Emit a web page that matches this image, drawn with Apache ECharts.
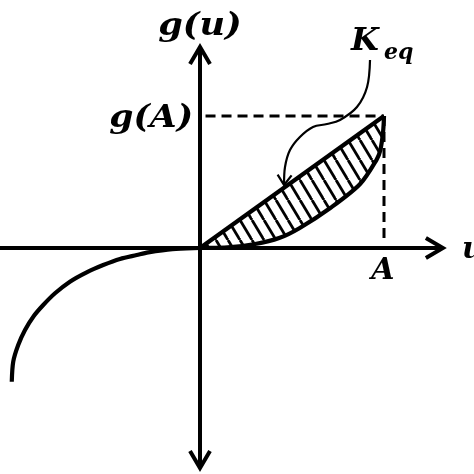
<!DOCTYPE html>
<html>
<head>
<meta charset="utf-8">
<script src="https://cdn.jsdelivr.net/npm/echarts@6/dist/echarts.min.js"></script>
<style>html,body{margin:0;padding:0;background:#fff;}#c{width:474px;height:474px;}</style>
</head>
<body>
<div id="c"></div>
<script>
// ---- data (A = 1, g(A) = 1) ----
const curveU = [-1.023, -1.015, -0.988, -0.951, -0.906, -0.852, -0.788, -0.707, -0.616, -0.526, -0.435, -0.344, -0.281, -0.15, 0, 0.15, 0.3, 0.43, 0.54, 0.71, 0.87, 0.96, 0.98, 0.995, 1.0];
const curveG = [-1.013, -0.861, -0.735, -0.621, -0.520, -0.432, -0.343, -0.255, -0.184, -0.129, -0.083, -0.053, -0.033, -0.008, 0, 0.005, 0.03, 0.075, 0.15, 0.305, 0.485, 0.67, 0.74, 0.88, 1.0];
const chordU = [0, 1];
const chordG = [0, 1];
const pointA = 1;
const gOfA = 1;
const xAxisExtent = [-1.087, 1.32];
const yAxisExtent = [-1.667, 1.523];
const keqU = [0.924, 0.908, 0.853, 0.761, 0.690, 0.614, 0.543, 0.489, 0.462, 0.457];
const keqG = [1.424, 1.22, 1.068, 0.970, 0.939, 0.917, 0.841, 0.742, 0.614, 0.477];
const axisNames = ['u', 'g(u)'];
const tickLabels = ['A', 'g(A)'];
const keqLabel = ['K', 'eq'];

// ---- build ----
const zip = (a, b) => a.map((v, i) => [v, b[i]]);
const curve = zip(curveU, curveG);
const chord = zip(chordU, chordG);
const keq = zip(keqU, keqG);
const rightCurve = curve.filter(p => p[0] >= 0);

const tile = document.createElement('canvas');
tile.width = 12; tile.height = 20;
const tctx = tile.getContext('2d');
tctx.strokeStyle = '#000'; tctx.lineWidth = 2.8;
for (let k = -1; k <= 1; k++) {
  tctx.beginPath(); tctx.moveTo(k * 12, 0); tctx.lineTo(k * 12 + 12, 20); tctx.stroke();
}

function arrowSeries(data, len, half, width) {
  return {
    type: 'custom', silent: true, clip: false, z: 10,
    data: data,
    renderItem: function (params, api) {
      const tip = api.coord([api.value(0), api.value(1)]);
      const from = api.coord([api.value(2), api.value(3)]);
      let dx = tip[0] - from[0], dy = tip[1] - from[1];
      const L = Math.hypot(dx, dy); dx /= L; dy /= L;
      const px = -dy, py = dx;
      const b = [tip[0] - dx * len, tip[1] - dy * len];
      return {
        type: 'polyline',
        shape: { points: [[b[0] + px * half, b[1] + py * half], tip, [b[0] - px * half, b[1] - py * half]] },
        style: { stroke: '#000', lineWidth: width, fill: null, lineJoin: 'miter', lineCap: 'butt' }
      };
    }
  };
}

function curveSeries(points, opts) {
  return {
    type: 'custom', silent: true, clip: false, z: opts.z || 5, data: [[0, 0]],
    renderItem: function (params, api) {
      return {
        type: 'polyline',
        shape: { points: points.map(p => api.coord(p)), smooth: opts.smooth },
        style: { fill: opts.fill || null, stroke: opts.stroke || null, lineWidth: opts.width || 0, lineJoin: 'round', lineCap: 'butt' }
      };
    }
  };
}

const mathText = (text, x, y, size, align, sx) => ({
  type: 'text', x: x, y: y, scaleX: sx || 1,
  style: { text: text, fontFamily: 'DejaVu Serif', fontWeight: 'bold', fontStyle: 'italic', fontSize: size, fill: '#000', align: align, verticalAlign: 'middle' }
});
const blackLine = (data, width, extra) => Object.assign({
  type: 'line', data: data, showSymbol: false, silent: true, animation: false,
  lineStyle: { color: '#000', width: width }, z: 5
}, extra || {});

const chart = echarts.init(document.getElementById('c'));
chart.setOption({
  animation: false,
  backgroundColor: '#fff',
  grid: { left: 0, right: 0, top: 0, bottom: 0 },
  xAxis: { type: 'value', min: -200 / 184, max: 274 / 184, show: false },
  yAxis: { type: 'value', min: -226 / 132, max: 248 / 132, show: false },
  series: [
    curveSeries(rightCurve, { smooth: 0.3, fill: { image: tile, repeat: 'repeat' }, z: 2 }),
    blackLine([[xAxisExtent[0], 0], [xAxisExtent[1], 0]], 4),
    blackLine([[0, yAxisExtent[0]], [0, yAxisExtent[1]]], 4),
    blackLine([[0.03, gOfA], [pointA, gOfA]], 3, { lineStyle: { color: '#000', width: 3, type: [10, 6] } }),
    blackLine([[pointA, gOfA], [pointA, 0.05]], 3, { lineStyle: { color: '#000', width: 3, type: [10, 6] } }),
    curveSeries(curve, { smooth: 0.3, stroke: '#000', width: 4.2 }),
    blackLine(chord, 4.2),
    curveSeries(keq, { smooth: 0.35, stroke: '#000', width: 2.2 }),
    arrowSeries([[xAxisExtent[1], 0, xAxisExtent[0], 0]], 17, 10, 4),
    arrowSeries([[0, yAxisExtent[1], 0, yAxisExtent[0]], [0, yAxisExtent[0], 0, yAxisExtent[1]]], 17, 10, 4),
    arrowSeries([[keqU[keqU.length - 1], keqG[keqG.length - 1], keqU[keqU.length - 2], keqG[keqG.length - 2]]], 10, 7, 2.2)
  ],
  graphic: [
    mathText(axisNames[1], 200, 27, 32, 'center', 1.1),
    mathText(axisNames[0], 462, 250, 30, 'left'),
    mathText(tickLabels[1], 193, 119, 32, 'right', 1.08),
    mathText(tickLabels[0], 383, 271, 30, 'center'),
    mathText(keqLabel[0], 351, 42, 32, 'left'),
    mathText(keqLabel[1], 384, 53, 22, 'left')
  ]
});
</script>
</body>
</html>
